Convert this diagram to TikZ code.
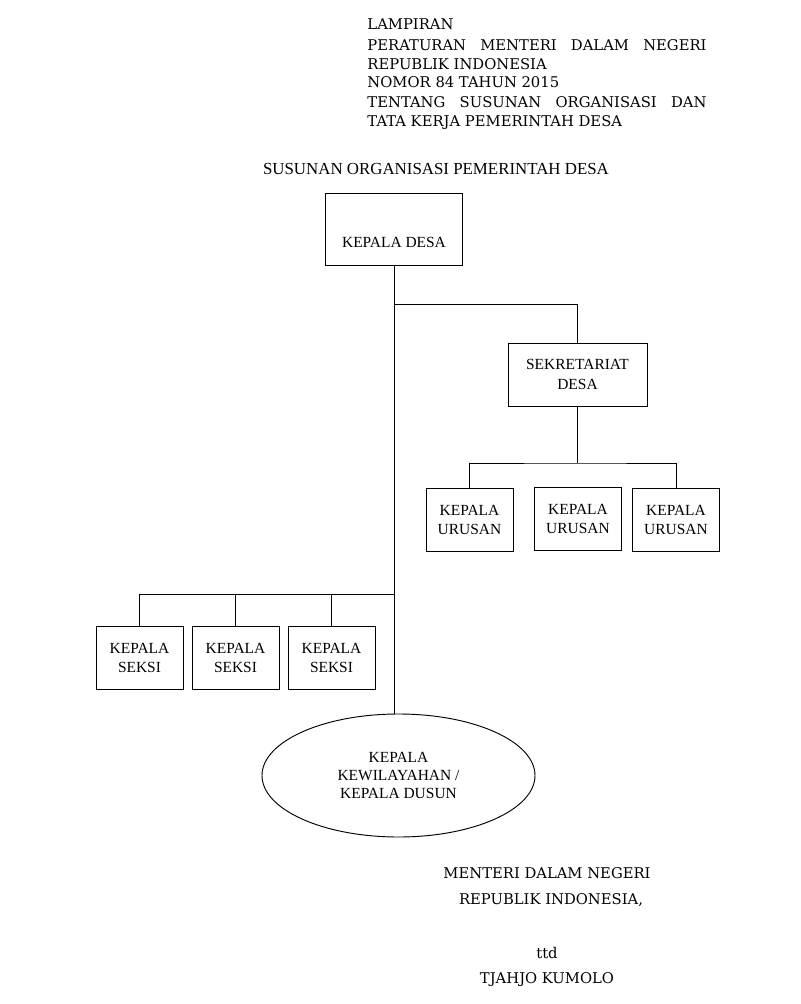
\documentclass[tikz,border=0pt]{standalone}
\usepackage{fontspec}
\setmainfont{Liberation Serif}
\newfontfamily\bookfont{DejaVu Serif}
\usetikzlibrary{positioning,shapes.geometric}
\tikzset{>=latex}

\begin{document}
\begin{tikzpicture}[x=0.03cm, y=-0.03cm, line width=0.8pt,
		box/.style={rectangle, draw=black, line width=0.8pt, align=center, inner sep=0pt, font=\fontsize{13.2}{16.5}\selectfont},
		smallbox/.style={box, minimum width=2.61cm, minimum height=1.87cm},
		head/.style={anchor=base west, inner sep=0pt, font=\bookfont\fontsize{12.6}{15}\selectfont},
		sign/.style={anchor=base, inner sep=0pt, font=\bookfont\fontsize{12.6}{15}\selectfont},
		node distance=2.88cm, on grid]
		\useasboundingbox (0,0) rectangle (800,1004);
		% header
		\node[head] (lamp) at (367,29) {LAMPIRAN};
		\node[head] (perm) at (367,50) {\hbox to 10.17cm{PERATURAN\hfill MENTERI\hfill DALAM\hfill NEGERI}};
		\node[head] (ri) at (367,69) {REPUBLIK INDONESIA};
		\node[head] (nomor) at (367,87) {NOMOR 84 TAHUN 2015};
		\node[head] (tentang) at (367,107) {\hbox to 10.17cm{TENTANG\hfill SUSUNAN\hfill ORGANISASI\hfill DAN}};
		\node[head] (tata) at (367,126) {TATA KERJA PEMERINTAH DESA};
		\node[anchor=base, inner sep=0pt, font=\fontsize{14.4}{17}\selectfont] (judul) at (436,174) {SUSUNAN ORGANISASI PEMERINTAH DESA};
		% boxes
		\node[box, minimum width=4.11cm, minimum height=2.16cm] (desa) at (394,229) {\raisebox{-0.54cm}[0pt][0pt]{KEPALA DESA}};
		\node[box, minimum width=4.17cm, minimum height=1.89cm] (sek) at (577.5,374.5) {SEKRETARIAT\\DESA};
		\node[smallbox] (ur1) at (469.5,520) {KEPALA\\URUSAN};
		\node[smallbox] (ur2) at (578,519) {KEPALA\\URUSAN};
		\node[smallbox] (ur3) at (676,520) {KEPALA\\URUSAN};
		\node[smallbox] (sk1) at (139.5,658) {KEPALA\\SEKSI};
		\node[smallbox] (sk2) [right=of sk1] {KEPALA\\SEKSI};
		\node[smallbox] (sk3) [right=of sk2] {KEPALA\\SEKSI};
		\node[ellipse, draw=black, minimum width=8.19cm, minimum height=3.69cm, inner sep=0pt, align=center, font=\fontsize{13.2}{15.4}\selectfont] (dusun) at (398.5,775.5) {KEPALA\\KEWILAYAHAN /\\KEPALA DUSUN};
		% lines
		\coordinate (jsek) at (394,304);
		\coordinate (jur) at (577.5,463);
		\coordinate (jsk) at (394,594);
		\draw (desa.south) -- (desa.south |- dusun.north);
		\draw (jsek) -| (sek.north);
		\draw (sek.south) -- (jur);
		\draw (ur1.north) |- (jur) -| (ur3.north);
		\draw (sk1.north) |- (jsk);
		\draw (sk2.north) -- (sk2.north |- jsk);
		\draw (sk3.north) -- (sk3.north |- jsk);
		% signature
		\node[sign] (menteri) at (547,878) {MENTERI DALAM NEGERI};
		\node[sign] (negara) at (551,904) {REPUBLIK INDONESIA,};
		\node[sign] (ttd) at (547,958) {ttd};
		\node[sign] (nama) at (547,983) {TJAHJO KUMOLO};
	\end{tikzpicture}
\end{document}
